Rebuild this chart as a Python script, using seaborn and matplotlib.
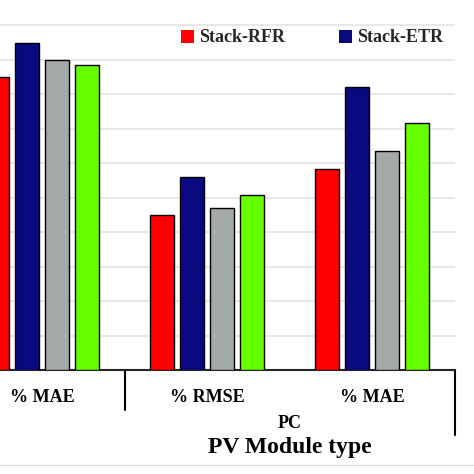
import matplotlib
matplotlib.use("Agg")
import matplotlib.pyplot as plt
import seaborn as sns
import pandas as pd
import numpy as np

groups = ["G1", "G2", "G3"]
group_labels = ["% MAE", "% RMSE", "% MAE"]
models = ["Stack-RFR", "Stack-ETR", "Stack-GBR", "Stack-XGBR"]
colors = ["#ff0000", "#0a0a80", "#a3aaa9", "#66ff00"]
vals = {
    "Stack-RFR": [8.49, 4.49, 5.83],
    "Stack-ETR": [9.48, 5.59, 8.20],
    "Stack-GBR": [8.99, 4.70, 6.35],
    "Stack-XGBR": [8.84, 5.07, 7.16],
}
rows = [(g, m, vals[m][i]) for m in models for i, g in enumerate(groups)]
df = pd.DataFrame(rows, columns=["group", "model", "value"])

sns.set_style("white")
plt.rcParams['font.family'] = ['Liberation Serif', 'DejaVu Serif']
fig = plt.figure(figsize=(4.74, 4.74), dpi=100)
ax = fig.add_axes([-40.5/474, 104/474, 495/474, 365/474])
sns.barplot(data=df, x="group", y="value", hue="model", order=groups, hue_order=models,
            palette=colors, saturation=1, width=0.73, gap=0.2, edgecolor="black", linewidth=1,
            ax=ax, legend=False, zorder=3)
ax.set_xlim(-0.5, 2.5)
ax.set_ylim(0, 10.58)
ax.set_yticks(np.arange(1, 11))
ax.yaxis.grid(True, color="#e4e4e4", linewidth=1.2, zorder=0)
ax.tick_params(left=False, labelleft=False, bottom=False)
for s in ["top", "right", "left"]:
    ax.spines[s].set_visible(False)
ax.spines["bottom"].set_linewidth(1.5)
ax.set_xticks(range(3))
ax.set_xticklabels(group_labels, fontsize=13, fontweight="bold", color="black")
ax.tick_params(axis="x", pad=10)
ax.set_xlabel("")
ax.set_ylabel("")

# separators
ax.plot([0.5, 0.5], [0, -1.16], color="black", lw=1.5, clip_on=False)
ax.plot([2.5, 2.5], [0, -1.88], color="black", lw=1.5, clip_on=False)
fig.text(290/474, 1 - 423/474, "PC", ha="center", va="center", fontsize=13, fontweight="bold", color="black")
fig.text(290/474, 1 - 447/474, "PV Module type", ha="center", va="center", fontsize=17, fontweight="bold", color="black")

handles = [plt.Rectangle((0, 0), 1, 1, facecolor=c, edgecolor="none") for c in colors[:2]]
fig.legend(handles, models[:2], loc="center", bbox_to_anchor=(312/474, 1 - 38/474), ncol=2,
           frameon=False, prop={"weight": "bold", "size": 13}, handlelength=0.7, handleheight=0.7,
           handletextpad=0.3, columnspacing=3.0)
fig.add_artist(plt.Line2D([0, 1], [1 - 465/474] * 2, color="#dddddd", lw=1))
fig.savefig("out.png", dpi=100)
